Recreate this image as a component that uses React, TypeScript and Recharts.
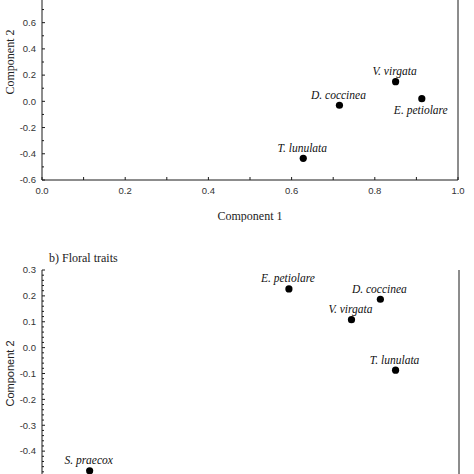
import * as React from "react";
import { ScatterChart, Scatter, XAxis, YAxis } from "recharts";

// a) top panel (only the lower part is visible)
const leafSpecies = ["V. virgata", "E. petiolare", "D. coccinea", "T. lunulata"];
const leafComp1 = [0.85, 0.913, 0.715, 0.628];
const leafComp2 = [0.15, 0.02, -0.03, -0.435];

// b) Floral traits
const floralSpecies = ["E. petiolare", "D. coccinea", "V. virgata", "T. lunulata", "S. praecox"];
const floralComp1 = [0.429, 0.736, 0.639, 0.787, -0.24];
const floralComp2 = [0.227, 0.187, 0.108, -0.087, -0.476];

const leafXTicks = [0, 0.1, 0.2, 0.3, 0.4, 0.5, 0.6, 0.7, 0.8, 0.9, 1.0];
const leafXLabels = [0, 0.2, 0.4, 0.6, 0.8, 1.0];
const leafYTicks = [-0.6, -0.5, -0.4, -0.3, -0.2, -0.1, 0, 0.1, 0.2, 0.3, 0.4, 0.5, 0.6, 0.7, 0.8, 0.9, 1.0, 1.1, 1.2];
const leafYLabels = [-0.6, -0.4, -0.2, 0, 0.2, 0.4, 0.6, 0.8];

const floralXTicks = [-0.4, -0.3, -0.2, -0.1, 0, 0.1, 0.2, 0.3, 0.4, 0.5, 0.6, 0.7, 0.8, 0.9, 1.0];
const floralXLabels = [-0.4, -0.2, 0, 0.2, 0.4, 0.6, 0.8, 1.0];
const floralYLabels = [-0.5, -0.4, -0.3, -0.2, -0.1, 0, 0.1, 0.2, 0.3];

// minor ticks every 0.02 on the floral y axis
const floralYTicks: number[] = [];
for (let i = -25; i <= 15; i++) floralYTicks.push(Math.round(i * 2) / 100);

const leafData = leafSpecies.map((name, i) => ({ name, x: leafComp1[i], y: leafComp2[i] }));
const floralData = floralSpecies.map((name, i) => ({ name, x: floralComp1[i], y: floralComp2[i] }));

const labelsBelow = ["E. petiolare@leaf"];

const AXIS = "#1a1a1a";
const SANS = "'Liberation Sans', Arial, sans-serif";
const SERIF = "'Liberation Serif', 'Times New Roman', serif";

const isIn = (v: number, list: number[]) => list.some((m) => Math.abs(m - v) < 1e-6);
const fmt = (v: number) => (Math.abs(v) < 1e-9 ? "0.0" : v.toFixed(1));

function BottomTick({ x, y, payload, labels }: any) {
  const major = isIn(payload.value, labels);
  return (
    <g>
      <line x1={x} y1={y} x2={x} y2={y - 3} stroke={AXIS} strokeWidth={1} />
      {major && (
        <text x={x} y={y + 14} textAnchor="middle" fontFamily={SANS} fontSize={9.5} fill="#333">
          {fmt(payload.value)}
        </text>
      )}
    </g>
  );
}

function TopTick({ x, y }: any) {
  return <line x1={x} y1={y} x2={x} y2={y + 3} stroke={AXIS} strokeWidth={1} />;
}

function LeftTick({ x, y, payload, labels, len }: any) {
  const major = isIn(payload.value, labels);
  return (
    <g>
      <line x1={x} y1={y} x2={x + (major ? 3 : len)} y2={y} stroke={AXIS} strokeWidth={1} />
      {major && (
        <text x={x - 6} y={y} dy="0.35em" textAnchor="end" fontFamily={SANS} fontSize={9.5} fill="#333">
          {fmt(payload.value)}
        </text>
      )}
    </g>
  );
}

function RightTick({ x, y, len }: any) {
  return <line x1={x} y1={y} x2={x - len} y2={y} stroke={AXIS} strokeWidth={1} />;
}

function RotatedLabel({ viewBox, value, dx, font, size }: any) {
  const cx = viewBox.x + dx;
  const cy = viewBox.y + viewBox.height / 2;
  return (
    <text
      x={cx}
      y={cy}
      transform={`rotate(-90 ${cx} ${cy})`}
      textAnchor="middle"
      dominantBaseline="central"
      fontFamily={font}
      fontSize={size}
      fill="#222"
    >
      {value}
    </text>
  );
}

function makeDot(panel: string) {
  return function Dot(props: any) {
    const { cx, cy, payload } = props;
    const below = labelsBelow.includes(`${payload.name}@${panel}`);
    return (
      <g>
        <circle cx={cx} cy={cy} r={3.6} fill="#000" />
        <text
          x={cx - 1}
          y={below ? cy + 15 : cy - 6.5}
          textAnchor="middle"
          fontFamily={SERIF}
          fontStyle="italic"
          fontSize={11.5}
          fill="#111"
        >
          {payload.name}
        </text>
      </g>
    );
  };
}

export default function App() {
  return (
    <div
      style={{
        position: "fixed",
        left: 0,
        top: 0,
        width: 474,
        height: 474,
        overflow: "hidden",
        background: "#fff",
      }}
    >
      <div style={{ position: "absolute", left: 0, top: -66 }}>
        <ScatterChart width={474} height={288} margin={{ top: 10, right: 0, bottom: 0, left: 0 }}>
          <XAxis
            type="number"
            dataKey="x"
            domain={[0, 1]}
            ticks={leafXTicks}
            interval={0}
            height={42}
            tickSize={0}
            tickMargin={0}
            tickLine={false}
            axisLine={{ stroke: AXIS }}
            tick={<BottomTick labels={leafXLabels} />}
            label={{ value: "Component 1", position: "insideBottom", offset: 2, fontFamily: SERIF, fontSize: 12, fill: "#222" }}
          />
          <YAxis
            yAxisId="l"
            type="number"
            dataKey="y"
            domain={[-0.6, 1.2]}
            ticks={leafYTicks}
            interval={0}
            width={42}
            tickSize={0}
            tickMargin={0}
            tickLine={false}
            axisLine={{ stroke: AXIS }}
            tick={<LeftTick labels={leafYLabels} len={2} />}
            label={<RotatedLabel value="Component 2" dx={10} font={SERIF} size={12} />}
          />
          <YAxis
            yAxisId="r"
            orientation="right"
            type="number"
            dataKey="y"
            domain={[-0.6, 1.2]}
            ticks={leafYTicks}
            interval={0}
            width={16}
            tickSize={0}
            tickMargin={0}
            tickLine={false}
            axisLine={{ stroke: AXIS }}
            tick={<RightTick len={2.5} />}
          />
          <Scatter yAxisId="l" data={leafData} shape={makeDot("leaf")} isAnimationActive={false} />
        </ScatterChart>
      </div>

      <div
        style={{
          position: "absolute",
          left: 49,
          top: 251,
          fontFamily: SERIF,
          fontSize: 12,
          color: "#222",
          lineHeight: "14px",
        }}
      >
        b) Floral traits
      </div>

      <div style={{ position: "absolute", left: 0, top: 245 }}>
        <ScatterChart width={474} height={272} margin={{ top: 25, right: 0, bottom: 0, left: 0 }}>
          <XAxis
            xAxisId="b"
            type="number"
            dataKey="x"
            domain={[-0.4, 1.0]}
            ticks={floralXTicks}
            interval={0}
            height={40}
            tickSize={0}
            tickMargin={0}
            tickLine={false}
            axisLine={{ stroke: AXIS }}
            tick={<BottomTick labels={floralXLabels} />}
          />
          <XAxis
            xAxisId="t"
            orientation="top"
            type="number"
            dataKey="x"
            domain={[-0.4, 1.0]}
            ticks={floralXTicks}
            interval={0}
            height={0}
            tickSize={0}
            tickMargin={0}
            tickLine={false}
            axisLine={{ stroke: "#666" }}
            tick={<TopTick />}
          />
          <YAxis
            yAxisId="l"
            type="number"
            dataKey="y"
            domain={[-0.5, 0.3]}
            ticks={floralYTicks}
            interval={0}
            width={42}
            tickSize={0}
            tickMargin={0}
            tickLine={false}
            axisLine={{ stroke: AXIS }}
            tick={<LeftTick labels={floralYLabels} len={2} />}
            label={<RotatedLabel value="Component 2" dx={10} font={SANS} size={11} />}
          />
          <YAxis
            yAxisId="r"
            orientation="right"
            type="number"
            dataKey="y"
            domain={[-0.5, 0.3]}
            ticks={floralYTicks}
            interval={0}
            width={15}
            tickSize={0}
            tickMargin={0}
            tickLine={false}
            axisLine={{ stroke: AXIS }}
            tick={<RightTick len={2} />}
          />
          <Scatter xAxisId="b" yAxisId="l" data={floralData} shape={makeDot("floral")} isAnimationActive={false} />
        </ScatterChart>
      </div>
    </div>
  );
}
